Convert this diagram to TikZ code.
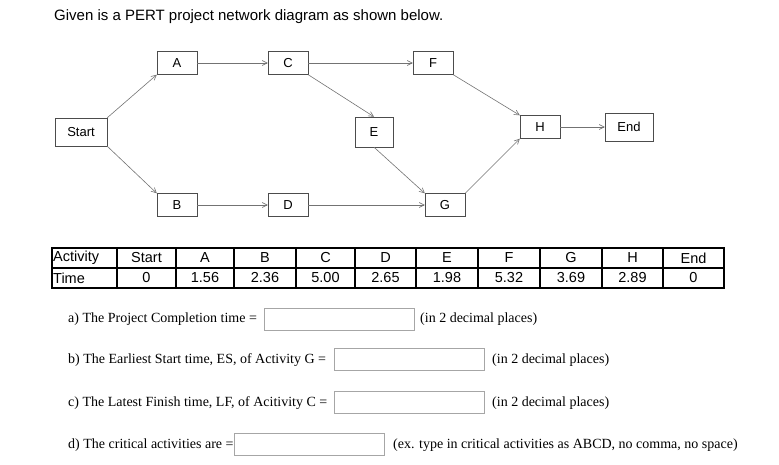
\documentclass[tikz,border=0pt]{standalone}
\usepackage{fontspec}
\setmainfont{Liberation Sans}
\newfontfamily\serif{Liberation Serif}
\usetikzlibrary{arrows.meta}
\begin{document}
\begin{tikzpicture}[x=1pt,y=-1pt,
  nd/.style={draw=black!70,fill=white,minimum width=40pt,minimum height=23pt,font=\fontsize{13}{14}\selectfont,inner sep=1pt},
  ar/.style={draw=black!55,line width=0.6pt,-{Straight Barb[length=5pt,width=5pt]}},
  ans/.style={draw=black!35,fill=white,minimum width=150pt,minimum height=22pt},
  q/.style={anchor=west,font=\serif\fontsize{14}{16}\selectfont,inner sep=0pt},
  cell/.style={font=\fontsize{14.5}{16}\selectfont,inner sep=0pt}]
\useasboundingbox (0,0) rectangle (779,465);
\node[anchor=west,inner sep=0pt,font=\fontsize{15}{17}\selectfont] (title) at (54,17) {Given is a PERT project network diagram as shown below.};
\node[nd,minimum width=52pt,minimum height=28pt] (S) at (81,132) {Start};
\node[nd] (A) at (177,63) {A};
\node[nd] (C) at (288,63) {C};
\node[nd] (F) at (433,63) {F};
\node[nd,minimum width=38pt,minimum height=30pt] (E) at (374,132) {E};
\node[nd] (H) at (540,127) {H};
\node[nd,minimum width=48pt,minimum height=28pt] (End) at (629,127) {End};
\node[nd] (B) at (177,205) {B};
\node[nd] (D) at (288,205) {D};
\node[nd] (G) at (445,205) {G};
\draw[ar] (S.north east) -- (A.south west);
\draw[ar] (S.south east) -- (B.north west);
\draw[ar] (A) -- (C);
\draw[ar] (C) -- (F);
\draw[ar] (C.south east) -- (E.north);
\draw[ar] (E.south) -- (G.north west);
\draw[ar] (B) -- (D);
\draw[ar] (D) -- (G);
\draw[ar] (F.south east) -- (H.north west);
\draw[ar] (G.north east) -- (H.south west);
\draw[ar] (H) -- (End);
% table
\draw[line width=1.2pt] (52,248) rectangle (724,288);
\draw[line width=1.2pt] (52,268) -- (724,268);
\foreach \x in {117,176,234,296,355,416,478,540,602,663} \draw[line width=1.2pt] (\x,248) -- (\x,288);
\node[cell,anchor=west] (t1) at (53,258) {Activity};
\node[cell,anchor=west] (t2) at (53,278) {Time};
\foreach \xa/\xb/\h/\v [count=\i] in {117/176/Start/0,176/234/A/1.56,234/296/B/2.36,296/355/C/5.00,355/416/D/2.65,416/478/E/1.98,478/540/F/5.32,540/602/G/3.69,602/663/H/2.89,663/724/End/0}{
  \node[cell] (h\i) at ({(\xa+\xb)/2},258) {\h};
  \node[cell] (v\i) at ({(\xa+\xb)/2},278) {\v};
}
% questions
\node[q] (qa) at (68,319) {a) The Project Completion time =};
\node[ans] (ba) at (339,319) {};
\node[q] (ra) at (420,319) {(in 2 decimal places)};
\node[q] (qb) at (68,360) {b) The Earliest Start time, ES, of Activity G =};
\node[ans] (bb) at (409,359) {};
\node[q] (rb) at (492,360) {(in 2 decimal places)};
\node[q] (qc) at (68,403) {c) The Latest Finish time, LF, of Acitivity C =};
\node[ans] (bc) at (409,402) {};
\node[q] (rc) at (492,403) {(in 2 decimal places)};
\node[q] (qd) at (68,445) {d) The critical activities are =};
\node[ans] (bd) at (309,444) {};
\node[q] (rd) at (393,445) {(ex. type in critical activities as ABCD, no comma, no space)};
\end{tikzpicture}
\end{document}
